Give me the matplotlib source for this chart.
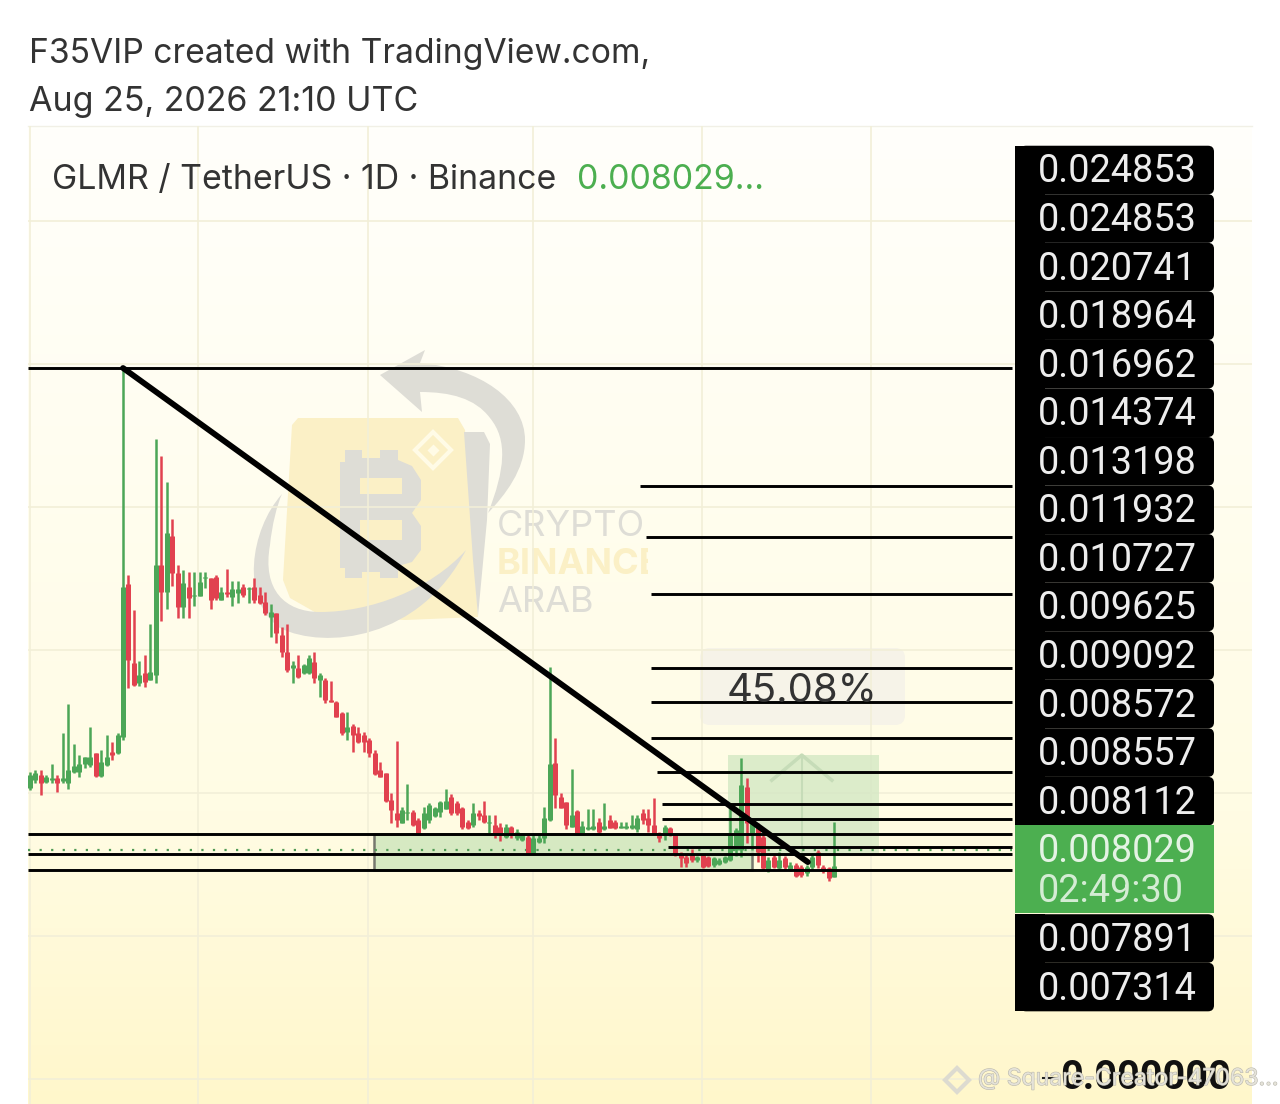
import numpy as np
import matplotlib
matplotlib.use("Agg")
import matplotlib.pyplot as plt
from matplotlib.patches import Rectangle, Polygon, FancyBboxPatch, PathPatch
from matplotlib.path import Path
import matplotlib.patheffects as pe

plt.rcParams["font.family"] = ["Inter", "DejaVu Sans"]

# daily candles, prices in millionths of a USDT
highs = [10738,10808,10808,10633,11018,10633,12101,13114,11716,11332,
         11262,12310,11402,11507,12031,11786,12101,24853,17621,16398,
         14616,14826,15909,22373,21779,20871,19578,17971,17796,17726,
         17726,17726,17726,17516,17621,17202,17831,17412,17412,17307,
         17202,17516,17202,17027,16608,16294,15804,15909,14616,14826,
         14512,14826,14931,14197,14022,13918,13219,12835,12835,12415,
         12310,12136,11926,11507,11088,10703,10004,11821,9515,10319,
         9410,9131,9515,9655,9515,9725,10144,9969,9725,9515,
         9061,9655,9410,9725,9236,9236,8956,8921,8851,8747,
         8607,8537,8607,8607,9515,14407,11926,10004,9690,10843,
         9410,9026,9445,9445,9131,9655,9236,9061,8991,8991,
         9236,9236,9445,9445,9830,8642,8886,8816,8607,7943,
         7838,8048,7803,7908,7803,7768,7733,7803,9655,8781,
         11227,10528,9061,8956,8537,7768,7838,7943,7803,7594,
         7559,7489,7489,7838,8013,7489,7419,8991]
lows = [10109,10354,9935,10354,10354,10039,10354,10144,10703,10563,
        10878,10913,10563,10563,10948,11157,11367,11856,13673,13743,
        13743,13708,13953,13848,16014,16433,17237,16119,16119,16119,
        16538,16888,17167,16433,16748,16748,16853,16538,16643,16853,
        16643,16643,16608,16224,15455,15245,14756,14232,13848,14022,
        14162,14162,13848,13359,13149,13184,12660,12031,11856,11437,
        11751,11437,11262,10633,10563,9690,8956,8816,8956,9061,
        8851,8572,8747,8956,9166,9166,9445,9236,9236,8747,
        8747,8816,9061,8956,8607,8432,8327,8432,8432,8362,
        8327,7908,7873,8257,8257,9026,9480,9480,8747,8816,
        8537,8537,8712,8712,8572,8712,8781,8747,8781,8747,
        8747,8642,8921,8642,8607,8292,8362,8502,7803,7419,
        7419,7594,7594,7384,7419,7419,7489,7559,7628,7803,
        7768,8257,8013,7594,7314,7244,7384,7314,7314,7279,
        7069,7069,7104,7314,7384,7209,6930,7069]
body_tops = [10633,10703,10633,10563,10528,10528,10528,10808,10948,11018,
             11262,11262,11402,11088,11262,11437,12031,17202,17307,14547,
             14127,14197,14232,17971,17971,19089,18984,17691,17342,17202,
             16923,17377,17551,17516,17551,17027,17027,17132,17132,17202,
             17167,17202,16923,16678,16329,16294,15525,14931,14477,14372,
             14477,14721,14582,14127,13953,13254,13184,12800,12310,12345,
             12101,12031,11856,11402,10808,10703,9760,9306,9410,9341,
             9341,9061,9306,9585,9480,9690,9725,9865,9655,9480,
             8991,9306,9306,9236,8991,8886,8816,8816,8816,8642,
             8537,8467,8432,8432,9131,11018,11053,9865,9690,9236,
             9375,8851,8816,8851,8991,8851,9061,8991,8851,8851,
             8886,9131,9306,9131,8886,8607,8816,8781,8537,7908,
             7768,7838,7768,7838,7768,7733,7663,7768,8607,8712,
             10284,10214,8991,8886,8467,7663,7768,7663,7733,7489,
             7489,7419,7419,7768,7943,7419,7384,7454]
body_bottoms = [10179,10459,10354,10389,10459,10354,10424,10354,10738,10738,
                11018,10983,10598,10598,10983,11332,11402,11961,14651,13778,
                13848,13883,13953,14127,17027,17027,17691,16503,16503,16818,
                16888,16888,17516,16748,16818,16748,16957,16853,16992,16923,
                17132,16748,16643,16294,16154,15595,14931,14302,14372,14057,
                14197,14197,14022,13953,13254,13184,12660,12101,12136,12031,
                11786,11786,11402,10668,10563,9725,9410,9061,8956,9306,
                8886,8607,8781,9061,9201,9341,9445,9306,9306,8816,
                8781,8886,9201,8991,8956,8537,8537,8467,8537,8432,
                8362,7908,7908,8292,8432,9061,9935,9480,8886,8816,
                8607,8607,8747,8747,8642,8747,8781,8781,8781,8781,
                8781,8747,9061,8886,8607,8432,8537,8607,7838,7733,
                7559,7663,7663,7419,7454,7489,7524,7594,7663,8013,
                8013,8956,8607,7943,7384,7314,7419,7384,7419,7349,
                7104,7139,7209,7419,7489,7279,7034,7069]
directions = ("GGRGGRGGGG" "GGRGGRGGRR" "GRGGRGRRGR" "GGGRRGRGGR" "GRRRGRRRGR"
              "GGRGRRRRGR" "RRRRRRRRGG" "RRGGGGGRRR" "RGRRGRRGRG" "GRGGGGRRRG"
              "RGGGRGRRGG" "GGRRRRGRRR" "RRGRRGGGGG" "GRGRRGRGRG" "RRGGRRRG")

levels = [0.024853, 0.020741, 0.018964, 0.016962, 0.014374, 0.013198, 0.011932,
          0.010727, 0.009625, 0.009092, 0.008572, 0.008112, 0.007891, 0.007314]
level_start_bars = [-0.4, 111.5, 112.6, 113.5, 113.5, 113.5, 113.5,
                    114.6, 115.5, 115.5, -0.4, 116.6, -0.4, -0.4]
upper_tags = ["0.024853", "0.024853", "0.020741", "0.018964", "0.016962", "0.014374", "0.013198",
              "0.011932", "0.010727", "0.009625", "0.009092", "0.008572", "0.008557", "0.008112"]
lower_tags = ["0.007891", "0.007314"]
last_price = 0.008029
countdown = "02:49:30"
month_bars = [0, 30.7, 61.8, 92, 122.9, 153.7]
price_grid = [0, 0.005, 0.010, 0.015, 0.020, 0.025, 0.030]

green = "#4CA657"
red = "#E1414F"
tag_green = "#4CAF50"
tag_font = ["Roboto", "DejaVu Sans"]

highs, lows = np.array(highs) / 1e6, np.array(lows) / 1e6
body_tops, body_bottoms = np.array(body_tops) / 1e6, np.array(body_bottoms) / 1e6
bars = np.arange(len(highs))
colors = [green if d == "G" else red for d in directions]

W, H = 1280, 1104
fig = plt.figure(figsize=(W / 100, H / 100), dpi=100, facecolor="white")

# background layer in image pixels: gradient panel and watermark
bg = fig.add_axes([0, 0, 1, 1], zorder=0)
bg.axis("off")
top_col = np.array([255, 255, 251]) / 255
mid_col = np.array([255, 252, 228]) / 255
bot_col = np.array([255, 247, 203]) / 255
t = np.linspace(0, 1, 300)[:, None]
grad = np.where(t < 0.7, top_col + (mid_col - top_col) * t / 0.7, mid_col + (bot_col - mid_col) * (t - 0.7) / 0.3)
bg.imshow(grad[:, None, :], extent=(28, 1252, 1104, 126), aspect="auto", zorder=0)
bg.set_xlim(0, W)
bg.set_ylim(H, 0)
bg.plot([28, 1252], [126, 126], color="#F1F0E6", lw=1)

wm_grey = "#DEDDD6"
wm_gold = "#FBF0C6"
bg.add_patch(Polygon([(292, 425), (298, 418), (458, 418), (465, 430), (478, 617), (405, 620), (320, 615),
                      (290, 598), (283, 580)], closed=True, fc=wm_gold, ec="none", zorder=1))
M, L, C, Z = Path.MOVETO, Path.LINETO, Path.CURVE4, Path.CLOSEPOLY
swoosh = Path([(282, 494), (250, 530), (240, 600), (280, 628), (325, 650), (420, 640), (466, 550),
               (430, 590), (370, 612), (320, 612), (285, 612), (262, 590), (270, 545),
               (272, 525), (277, 505), (282, 494), (282, 494)],
              [M, C, C, C, C, C, C, C, C, C, C, C, C, C, C, C, Z])
bg.add_patch(PathPatch(swoosh, fc=wm_grey, ec="none", zorder=2))
bg.add_patch(Polygon([(464, 432), (484, 432), (490, 444), (487, 520), (478, 616), (473, 560)],
                     closed=True, fc=wm_grey, ec="none", zorder=2))
arrow = Path([(380, 375), (425, 350), (420, 363), (480, 368), (525, 400), (525, 440), (525, 470), (505, 495),
              (488, 513), (505, 470), (508, 440), (490, 418), (475, 398), (450, 392), (420, 392),
              (422, 412), (380, 375)],
             [M, L, L, C, C, C, C, C, C, C, C, C, C, C, C, L, Z])
bg.add_patch(PathPatch(arrow, fc=wm_grey, ec="none", zorder=2))
# blocky bitcoin sign
bg.add_patch(Polygon([(340, 462), (345, 462), (345, 450), (362, 450), (362, 458), (380, 458), (380, 450),
                      (398, 450), (398, 460), (412, 466), (421, 480), (421, 500), (412, 513), (421, 526),
                      (421, 550), (412, 562), (398, 566), (398, 578), (380, 578), (380, 572), (362, 572),
                      (362, 578), (345, 578), (345, 568), (340, 568), (340, 545), (340, 500)],
                     closed=True, fc=wm_grey, ec="none", zorder=3))
bg.add_patch(Rectangle((360, 478), 42, 16, fc=wm_gold, ec="none", zorder=4))
bg.add_patch(Rectangle((360, 520), 42, 20, fc=wm_gold, ec="none", zorder=4))
bg.plot([433], [450], marker="D", ms=18, mfc=wm_gold, mec="#FFFBE6", mew=3, zorder=4)
bg.plot([433], [450], marker="D", ms=6, mfc="#FFFBE6", mec="none", zorder=4)
bg.text(497, 526, "CRYPTO", fontsize=26, color=wm_grey, va="center", zorder=3)
binance_text = bg.text(497, 564, "BINANCE", fontsize=26, fontweight="bold", color=wm_gold, va="center",
                       zorder=3, clip_on=True)
binance_text.set_clip_path(Rectangle((497, 540), 151, 45, transform=bg.transData))
bg.text(497, 602, "ARAB", fontsize=26, color=wm_grey, va="center", zorder=3)

# "45.08%" pill
bg.add_patch(FancyBboxPatch((703, 651), 199, 71, boxstyle="round,pad=3,rounding_size=10",
                            fc="#F6F3E8", ec="none", zorder=5))

# chart axes: x in bars, y in price
ax = fig.add_axes([28 / W, 0, (1252 - 28) / W, (H - 126) / H], zorder=1)
ax.patch.set_alpha(0)
ax.set_xlim(-0.37, 223.4)
ax.set_ylim(-0.000861, 0.033309)
ax.set_xticks(month_bars)
ax.set_yticks(price_grid)
ax.tick_params(length=0, labelbottom=False, labelleft=False)
ax.grid(True, color="#F2EFD8", lw=1.2)
ax.set_axisbelow(True)
for s in ax.spines.values():
    s.set_visible(False)

# position boxes
ax.add_patch(Rectangle((62.9, 0.007314), 132 - 62.9, 0.008572 - 0.007314, fc="#D6E9C2", ec="#77786F", lw=1.8, zorder=2))
ax.add_patch(Rectangle((127.6, 0.0078), 155.2 - 127.6, 0.01133 - 0.0078, fc="#D4E8C4", alpha=0.8, ec="none", zorder=2))
ax.plot([141.1, 141.1], [0.0078, 0.01133], color="#C6DCB8", lw=1.5, zorder=2)
ax.plot([135.6, 141.1, 146.6], [0.01045, 0.01133, 0.01045], color="#C6DCB8", lw=2.5, zorder=2)

ax.plot([-0.4, 179.5], [last_price, last_price], color="#4F9A55", lw=1.6, ls=(0, (1, 4.2)), zorder=3)

ax.vlines(bars, lows, highs, colors=colors, lw=1.8, zorder=4)
ax.vlines(bars, body_bottoms, body_tops, colors=colors, lw=3.6, zorder=4)

ax.hlines(levels, level_start_bars, 179.5, colors="black", lw=2.1, zorder=5)
ax.plot([17, 142.2], [0.024853, 0.00759], color="black", lw=4.2, solid_capstyle="round", zorder=6)

# text and price tags in image pixels
fg = fig.add_axes([0, 0, 1, 1], zorder=2)
fg.set_xlim(0, W)
fg.set_ylim(H, 0)
fg.axis("off")
fg.patch.set_alpha(0)

fg.text(29, 54, "F35VIP created with TradingView.com,", fontsize=24.2, color="#333333", va="center")
fg.text(29, 102, "Aug 25, 2026 21:10 UTC", fontsize=24.5, color="#333333", va="center")
fg.text(52, 180, "GLMR / TetherUS · 1D · Binance", fontsize=24.4, color="#333333", va="center")
fg.text(577, 180, "0.008029...", fontsize=24.4, color=tag_green, va="center")
fg.text(802, 691, "45.08%", fontsize=28.8, color="#333333", va="center", ha="center")

tag_h = 48.55
for i, lab in enumerate(upper_tags):
    yc = 170 + tag_h * i
    fg.add_patch(Rectangle((1015, yc - tag_h / 2), 30, tag_h, fc="black", ec="none"))
    fg.add_patch(FancyBboxPatch((1020, yc - tag_h / 2), 194, tag_h, boxstyle="round,pad=0,rounding_size=6",
                                fc="black", ec="none"))
    fg.text(1038, yc + 2, lab, fontsize=27.3, family=tag_font, color="#EDEDED", va="center", ha="left")
fg.add_patch(Rectangle((1015, 825), 199, 88, fc=tag_green, ec="none"))
fg.text(1038, 852, f"{last_price:.6f}", fontsize=27.3, family=tag_font, color="#E4F3E4", va="center", ha="left")
fg.text(1038, 892, countdown, fontsize=27.3, family=tag_font, color="#D4ECD4", va="center", ha="left")
for i, lab in enumerate(lower_tags):
    yc = 938.5 + tag_h * i
    fg.add_patch(Rectangle((1015, yc - tag_h / 2), 30, tag_h, fc="black", ec="none"))
    fg.add_patch(FancyBboxPatch((1020, yc - tag_h / 2), 194, tag_h, boxstyle="round,pad=0,rounding_size=6",
                                fc="black", ec="none"))
    fg.text(1038, yc + 2, lab, fontsize=27.3, family=tag_font, color="#EDEDED", va="center", ha="left")

# zero tick label and the site watermark over it
fg.plot([1043, 1058], [1078, 1078], color="#222222", lw=1.5)
fg.text(1145, 1078, "0.000000", fontsize=28.5, fontweight="bold", family=tag_font, color="#111111", va="center", ha="center")
fg.plot([957], [1080], marker="D", ms=12, mfc="none", mec="#DDDBD0", mew=3)
fg.text(978, 1079, "@ Square-Creator-47063...", fontsize=16.6, color="#E6E4DA", alpha=0.9, va="center",
        path_effects=[pe.withStroke(linewidth=0.8, foreground="#B5B3A9")])

fig.savefig("out.png", dpi=100)
